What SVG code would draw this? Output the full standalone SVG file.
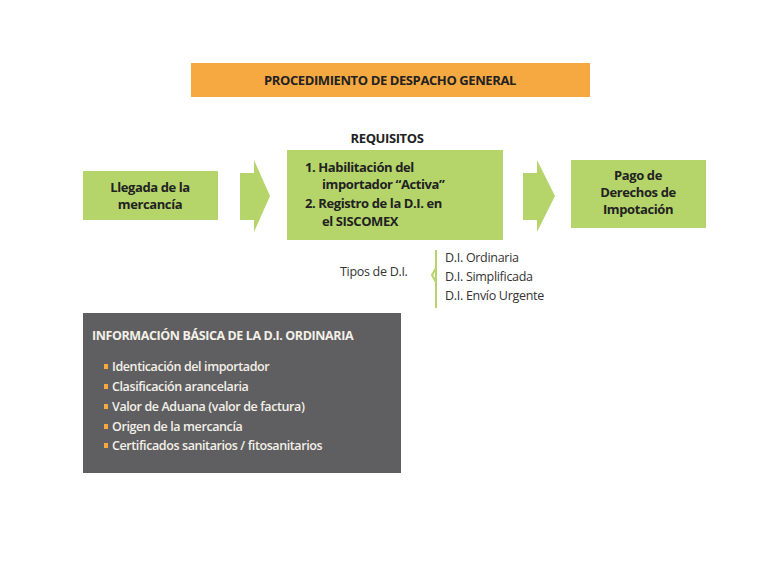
<svg xmlns="http://www.w3.org/2000/svg" width="768" height="576" viewBox="0 0 768 576">
<style>
.g{fill:#b5d56a}
.t{font-family:"Open Sans","Liberation Sans",sans-serif;font-weight:bold;font-size:13px;fill:#222;letter-spacing:-0.4px}
.n{font-family:"Open Sans","Liberation Sans",sans-serif;font-size:12.5px;fill:#333;letter-spacing:-0.3px}
.w{font-family:"Open Sans","Liberation Sans",sans-serif;font-weight:bold;font-size:12.5px;fill:#f4f0e8;letter-spacing:-0.4px}
.b{fill:#f7a941}
</style>
<rect width="768" height="576" fill="#fff"/>
<g id="title"><rect x="191" y="63" width="399" height="34" fill="#f7a941"/><text class="t" x="390" y="85" text-anchor="middle">PROCEDIMIENTO DE DESPACHO GENERAL</text></g>
<text class="t" x="387" y="143" text-anchor="middle">REQUISITOS</text>
<g id="llegada"><rect class="g" x="83" y="171" width="135" height="49"/><text class="t" x="150" y="192" text-anchor="middle">Llegada de la</text><text class="t" x="150" y="209" text-anchor="middle">mercancía</text></g>
<g id="requisitos"><rect class="g" x="287" y="150" width="216" height="90"/>
<text class="t" x="305" y="172">1. Habilitación del</text><text class="t" x="322" y="189">importador “Activa”</text>
<text class="t" x="305" y="208">2.  Registro de la D.I. en</text><text class="t" x="322" y="226">el SISCOMEX</text></g>
<g id="pago"><rect class="g" x="571" y="160" width="135" height="68"/><text class="t" x="638" y="180" text-anchor="middle">Pago de</text><text class="t" x="638" y="197" text-anchor="middle">Derechos de</text><text class="t" x="638" y="214" text-anchor="middle">Impotación</text></g>
<g id="connectors">
<polygon class="g" points="240,173 254,173 254,160 270,196 254,232 254,220 240,220"/>
<polygon class="g" points="523,173 537,173 537,160 555,196 537,232 537,220 523,220"/>
<path d="M436,250 V308 M436,268 L432,275 L436,282" stroke="#b5d56a" stroke-width="2" fill="none"/>
</g>
<g id="tipos"><text class="n" x="340" y="276">Tipos de D.I.</text>
<text class="n" x="445" y="262">D.I.  Ordinaria</text><text class="n" x="445" y="281">D.I.  Simplificada</text><text class="n" x="445" y="300">D.I.  Envío Urgente</text></g>
<g id="info"><rect x="83" y="313" width="318" height="160" fill="#5f5f61"/>
<text class="w" x="92" y="340">INFORMACIÓN BÁSICA DE LA  D.I. ORDINARIA</text>
<rect class="b" x="104" y="364" width="4" height="5"/><text class="w" x="112" y="371" font-weight="normal" style="font-weight:600">Identicación del importador</text>
<rect class="b" x="104" y="384" width="4" height="5"/><text class="w" x="112" y="391" style="font-weight:600">Clasificación arancelaria</text>
<rect class="b" x="104" y="404" width="4" height="5"/><text class="w" x="112" y="411" style="font-weight:600">Valor de Aduana (valor de factura)</text>
<rect class="b" x="104" y="424" width="4" height="5"/><text class="w" x="112" y="431" style="font-weight:600">Origen de la mercancía</text>
<rect class="b" x="104" y="443" width="4" height="5"/><text class="w" x="112" y="450" style="font-weight:600">Certificados sanitarios / fitosanitarios</text>
</g>
</svg>
